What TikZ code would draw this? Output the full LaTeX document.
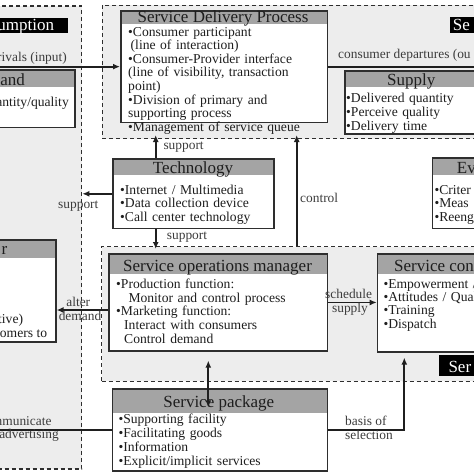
\documentclass[tikz,border=0pt]{standalone}
\usepackage{fontspec}
\setmainfont{Liberation Serif}
\usetikzlibrary{arrows.meta,calc}
\definecolor{regfill}{HTML}{EDEDED}
\definecolor{hdrgray}{HTML}{A4A4A4}
\definecolor{bordc}{HTML}{2E2E2E}
\definecolor{txtc}{HTML}{1E1E1E}
\definecolor{lblc}{HTML}{3C3C3C}
\tikzset{
  region/.style={draw=bordc, fill=regfill, dash pattern=on 4pt off 3pt, line width=1.3pt, rectangle, inner sep=0pt, anchor=north west},
  pbox/.style={draw=bordc, fill=white, line width=1.6pt, rectangle, inner sep=0pt, anchor=north west,
     path picture={\fill[hdrgray] (path picture bounding box.north west) rectangle ([yshift=-#1]path picture bounding box.north east);}},
  blackbox/.style={fill=black, rectangle, inner sep=0pt, anchor=north west},
  ttl/.style={font=\fontsize{17}{17}\selectfont, text=txtc, inner sep=0pt},
  wttl/.style={font=\fontsize{17}{17}\selectfont, text=white, inner sep=0pt},
  body/.style={font=\fontsize{13.6}{#1}\selectfont, text=txtc, inner sep=0pt, align=left, text width=240pt, anchor=base west},
  frag/.style={font=\fontsize{13.6}{13.7}\selectfont, text=txtc, inner sep=0pt},
  lbl/.style={font=\fontsize{13.4}{13.4}\selectfont, text=lblc, inner sep=0pt},
  conn/.style={draw=black!88, line width=1.7pt},
  arr/.style={conn, -{Latex[length=7pt,width=6pt]}},
  darr/.style={conn, {Latex[length=7pt,width=6pt]}-{Latex[length=7pt,width=6pt]}},
}
\begin{document}
\begin{tikzpicture}[x=1pt,y=-1pt]
\useasboundingbox (0,0) rectangle (474,474);
\fill[white] (0,0) rectangle (474,474);
\clip (0,0) rectangle (474,474);

% regions
\node[region, minimum width=91pt, minimum height=463pt] (lpanel) at (-10,5.3) {};
\node[region, minimum width=388.5pt, minimum height=133.3pt] (treg) at (101.5,4.7) {};
\node[region, minimum width=389pt, minimum height=134.5pt] (lreg) at (101,246) {};

% black labels
\node[blackbox, minimum width=78pt, minimum height=15pt] (blk1) at (-10,18) {};
\node[wttl, anchor=base east] (blk1t) at (54.3,30.5) {umption};
\node[blackbox, minimum width=40pt, minimum height=16.3pt] (blk2) at (450,16.7) {};
\node[wttl, anchor=base west] (blk2t) at (452.7,30.5) {Se};
\node[blackbox, minimum width=52pt, minimum height=21pt] (blk3) at (438.3,355) {};
\node[wttl, anchor=base west] (blk3t) at (448.3,372.5) {Ser};

% boxes
\node[pbox=16.7pt, minimum width=84pt, minimum height=57.4pt] (demand) at (-10,69.3) {};
\node[ttl, anchor=base east] (demandT) at (25,85) {and};
\node[frag, anchor=base east] (demandB) at (69,106.8) {antity/quality};

\node[pbox=13.3pt, minimum width=206.7pt, minimum height=111.7pt] (sdp) at (120,10) {};
\node[ttl, anchor=base] (sdpT) at (223,22.5) {Service Delivery Process};
\node[body=13.65pt] (sdpB) at (128,36) {\textbullet Consumer participant\\
\hspace*{2.5pt}(line of interaction)\\
\textbullet Consumer-Provider interface\\
(line of visibility, transaction\\
point)\\
\textbullet Division of primary and\\
supporting process\\
\textbullet Management of service queue};

\node[pbox=16pt, minimum width=145.7pt, minimum height=63.3pt] (supply) at (344.3,70) {};
\node[ttl, anchor=base] (supplyT) at (411.3,85) {Supply};
\node[body=14pt] (supplyB) at (346,102.4) {\textbullet Delivered quantity\\
\textbullet Perceive quality\\
\textbullet Delivery time};

\node[pbox=16pt, minimum width=161pt, minimum height=69.4pt] (tech) at (112.3,158.3) {};
\node[ttl, anchor=base] (techT) at (193,173.5) {Technology};
\node[body=13.85pt] (techB) at (120,194) {\textbullet Internet / Multimedia\\
\textbullet Data collection device\\
\textbullet Call center technology};

\node[pbox=16.7pt, minimum width=58.3pt, minimum height=70.4pt] (eval) at (431.7,157.3) {};
\node[ttl, anchor=base west] (evalT) at (456.7,173.5) {Ev};
\node[body=13.85pt] (evalB) at (434.3,194) {\textbullet Criter\\
\textbullet Meas\\
\textbullet Reeng};

\node[pbox=17.4pt, minimum width=65pt, minimum height=101.7pt] (cons) at (-10,239.3) {};
\node[ttl, anchor=base east] (consT) at (7.5,254) {r};
\node[frag, anchor=base east] (consB1) at (23.3,323.4) {tive)};
\node[frag, anchor=base east] (consB2) at (47.3,337.3) {omers to};

\node[pbox=20pt, minimum width=218.4pt, minimum height=96.7pt] (ops) at (108.3,253.3) {};
\node[ttl, anchor=base] (opsT) at (217.5,271) {Service operations manager};
\node[body=13.75pt] (opsB) at (116,288.4) {\textbullet Production function:\\
\hspace*{12.3pt}Monitor and control process\\
\textbullet Marketing function:\\
\hspace*{8pt}Interact with consumers\\
\hspace*{8pt}Control demand};

\node[pbox=20pt, minimum width=113.3pt, minimum height=97.7pt] (sc) at (376.7,253.3) {};
\node[ttl, anchor=base west] (scT) at (394,271) {Service cont};
\node[body=13.3pt] (scB) at (383.3,288.3) {\textbullet Empowerment /\\
\textbullet Attitudes / Qual\\
\textbullet Training\\
\textbullet Dispatch};

\node[pbox=23.4pt, minimum width=215pt, minimum height=81.7pt] (pkg) at (111.7,388.3) {};
\node[ttl, anchor=base] (pkgT) at (218.8,407) {Service package};
\node[body=14.1pt] (pkgB) at (118.3,423.5) {\textbullet Supporting facility\\
\textbullet Facilitating goods\\
\textbullet Information\\
\textbullet Explicit/implicit services};

% helper coordinates
\coordinate (pl) at (-5,0);
\coordinate (pr) at (480,0);
\coordinate (s1) at (155.7,135);
\coordinate (c1) at (296.7,135);
\coordinate (s2) at (155.7,249);
\coordinate (a1) at (0,310);
\coordinate (d1) at (208.3,0);
\coordinate (b1) at (404.3,0);

% connectors
\draw[arr] (sdp.west -| pl) -- (sdp.west);
\draw[conn] (sdp.east) -- (sdp.east -| pr);
\draw[arr] (tech.north -| s1) -- (s1);
\draw[arr] (lreg.north -| c1) -- (c1);
\draw[arr] (tech.west) -- (tech.west -| lpanel.east);
\draw[arr] (tech.south -| s2) -- (s2);
\draw[arr] (ops.west |- a1) -- (cons.east |- a1);
\draw[arr] (ops.east) -- (sc.west |- ops.east);
\draw[darr] ($(ops.south -| d1)+(0,9)$) -- ($(pkg.north -| d1)+(0,19)$);
\draw[conn] (pkg.west) -- (pkg.west -| pl);
\draw[arr] (pkg.east) -- (pkg.east -| b1) -- ($(sc.south -| b1)+(0,5)$);

% labels
\node[lbl, anchor=base east] (l1) at (67,61) {rivals (input)};
\node[lbl, anchor=base west] (l2) at (338,58.5) {consumer departures (ou};
\node[lbl, anchor=base west] (l3) at (163.3,149.5) {support};
\node[lbl, anchor=base west] (l4) at (300,202) {control};
\node[lbl, anchor=base] (l5) at (78.3,208.5) {support};
\node[lbl, anchor=base west] (l6) at (166.7,239.5) {support};
\node[lbl, anchor=base] (l7) at (78.3,306.7) {alter};
\node[lbl, anchor=base] (l8) at (80,320) {demand};
\node[lbl, anchor=base west] (l9) at (325,298.6) {schedule};
\node[lbl, anchor=base] (l10) at (350,312) {supply};
\node[lbl, anchor=base east] (l11) at (51.7,425) {nmunicate};
\node[lbl, anchor=base east] (l12) at (59,438.5) {advertising};
\node[lbl, anchor=base west] (l13) at (345,425.7) {basis of};
\node[lbl, anchor=base west] (l14) at (345,439.3) {selection};
\end{tikzpicture}
\end{document}
